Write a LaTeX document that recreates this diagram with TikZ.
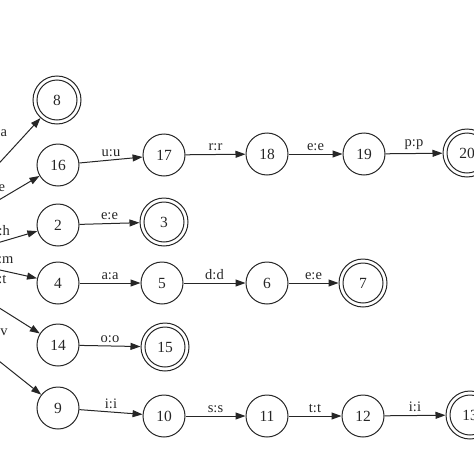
\documentclass[tikz,border=0pt]{standalone}
\usepackage{fontspec}
\setmainfont{Liberation Serif}
\usetikzlibrary{arrows.meta}
\newcommand{\lblfont}{\fontsize{14.5}{17}\selectfont}
\newcommand{\stfont}{\fontsize{15.5}{18}\selectfont}

\begin{document}
\begin{tikzpicture}[x=1pt,y=-1pt,
    st/.style={circle,draw=black!85,text=black!85,line width=1pt,minimum size=42pt,inner sep=0pt,font=\stfont},
    fin/.style={st,minimum size=48pt,path picture={\draw[black!85,line width=1pt] (path picture bounding box.center) circle (20pt);}},
    tr/.style={draw=black!85,line width=1pt,-{Triangle[length=10pt,width=7pt]}},
    lbl/.style={text=black!85,font=\lblfont,inner sep=1pt},
    inlbl/.style={lbl,pos=1,anchor=east}]
  \path[use as bounding box,clip] (0,0) rectangle (474,474);
  % start state, out of the frame on the left
  \node[st] (n0) at (-110,268) {0};
  %
  \node[fin] (n8) at (57,100) {8};
  \node[st] (n16) at (58,165) {16};
  \node[st] (n17) at (164,155) {17};
  \node[st] (n18) at (267,154) {18};
  \node[st] (n19) at (364,154) {19};
  \node[fin] (n20) at (467,153) {20};
  \node[st] (n2) at (58,225) {2};
  \node[fin] (n3) at (164,222) {3};
  \node[st] (n4) at (58,283) {4};
  \node[st] (n5) at (162,283) {5};
  \node[st] (n6) at (267,283) {6};
  \node[fin] (n7) at (363,283) {7};
  \node[st] (n14) at (58,345) {14};
  \node[fin] (n15) at (165,347) {15};
  \node[st] (n9) at (58,408) {9};
  \node[st] (n10) at (164,416) {10};
  \node[st] (n11) at (267,416) {11};
  \node[st] (n12) at (363,416) {12};
  \node[fin] (n13) at (470,415) {13};
  %
  \draw[tr] (n0) .. controls (-40,206) .. (n8) node[inlbl,xshift=-32,yshift=-15] {a:a};
  \draw[tr] (n0) .. controls (-40,223) .. (n16) node[inlbl,xshift=-33,yshift=-12] {e:e};
  \draw[tr] (n0) .. controls (-40,254) .. (n2) node[inlbl,xshift=-26,yshift=1] {h:h};
  \draw[tr] (n0) .. controls (-40,261) .. (n4) node[inlbl,xshift=-22,yshift=18] {m:m};
  \draw[tr] (n0) .. controls (-40,283) .. (n14) node[inlbl,xshift=-32,yshift=54] {t:t};
  \draw[tr] (n0) .. controls (-40,330) .. (n9) node[inlbl,xshift=-32,yshift=62] {v:v};
  %
  \draw[tr] (n16) -- node[lbl,above=2pt] {u:u} (n17);
  \draw[tr] (n17) -- node[lbl,above=2pt] {r:r} (n18);
  \draw[tr] (n18) -- node[lbl,above=2pt] {e:e} (n19);
  \draw[tr] (n19) -- node[lbl,above=2pt] {p:p} (n20);
  \draw[tr] (n2) -- node[lbl,above=2pt] {e:e} (n3);
  \draw[tr] (n4) -- node[lbl,above=2pt] {a:a} (n5);
  \draw[tr] (n5) -- node[lbl,above=2pt] {d:d} (n6);
  \draw[tr] (n6) -- node[lbl,above=2pt] {e:e} (n7);
  \draw[tr] (n14) -- node[lbl,above=2pt] {o:o} (n15);
  \draw[tr] (n9) -- node[lbl,above=2pt] {i:i} (n10);
  \draw[tr] (n10) -- node[lbl,above=2pt] {s:s} (n11);
  \draw[tr] (n11) -- node[lbl,above=2pt] {t:t} (n12);
  \draw[tr] (n12) -- node[lbl,above=2pt] {i:i} (n13);
\end{tikzpicture}
\end{document}
